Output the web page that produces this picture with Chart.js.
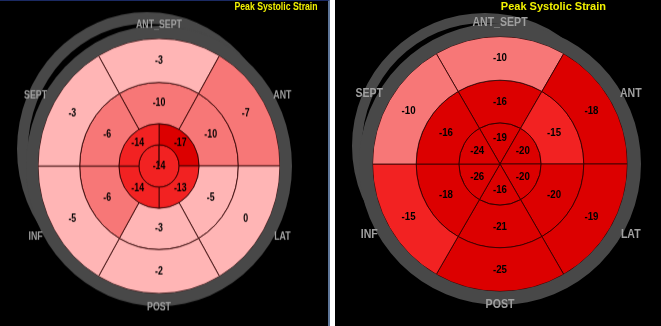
<!DOCTYPE html>
<html>
<head>
<meta charset="utf-8">
<title>Peak Systolic Strain</title>
<script src="https://cdn.jsdelivr.net/npm/chart.js@4.4.1/dist/chart.umd.min.js"></script>
<style>
  html, body { margin: 0; padding: 0; }
  body { width: 661px; height: 326px; background: #fff; position: relative; overflow: hidden; }
  .panel { position: absolute; top: 0; background: #000; overflow: hidden; }
  #left { left: 0; width: 328px; height: 325px; border-top: 1px solid #1b2a63; border-right: 2px solid #5d7598; }
  #right { left: 335px; width: 326px; height: 326px; }
  .title { position: absolute; color: #f2f200; font-family: "Liberation Sans", Arial, sans-serif; font-weight: bold; white-space: nowrap; line-height: 1; transform-origin: right center; }
  .holder { position: absolute; }
  .holder canvas { position: absolute; }
</style>
</head>
<body>
<div id="left" class="panel">
  <div class="holder" style="left:9px; top:15px; width:300px; height:300px; transform:scaleY(1.054)">
    <canvas id="leftShadow" width="300" height="300" style="left:-12px; top:-16px"></canvas>
    <canvas id="leftChart" width="300" height="300" style="left:0; top:0"></canvas>
  </div>
  <div class="title" style="right:10px; top:1px; font-size:10px; transform:scaleX(0.87)">Peak Systolic Strain</div>
</div>
<div id="right" class="panel">
  <div class="holder" style="left:5px; top:4px; width:320px; height:320px">
    <canvas id="rightShadow" width="320" height="320" style="left:-15px; top:-18px"></canvas>
    <canvas id="rightChart" width="320" height="320" style="left:0; top:0"></canvas>
  </div>
  <div class="title" style="right:55px; top:1px; font-size:11px">Peak Systolic Strain</div>
</div>
<script>
const segmentNames = ['ANT_SEPT', 'ANT', 'LAT', 'POST', 'INF', 'SEPT'];

// left bull's eye, 17 segments, clockwise from 12 o'clock
const leftBasal = [-3, -7, 0, -2, -5, -3];
const leftMid = [-10, -10, -5, -3, -6, -6];
const leftApical = [-17, -13, -14, -14];
const leftApex = [-14];

// right bull's eye, 18 segments
const rightBasal = [-10, -18, -19, -25, -15, -10];
const rightMid = [-16, -15, -20, -21, -18, -16];
const rightApical = [-19, -20, -20, -16, -26, -24];

const RING_GRAY = '#484848';
const LINE = 'rgba(45, 0, 0, 0.8)';
const FONT = '"Liberation Sans", Arial, sans-serif';

function strainColor(v) {
    if (v >= -5) return '#ffb5b5';
    if (v >= -10) return '#f77777';
    if (v >= -15) return '#f22222';
    return '#dc0000';
}

function ring(values, weight, rotation, names) {
    return {
        data: values.map(() => 1),
        strain: values,
        names: names,
        backgroundColor: values.map(strainColor),
        borderColor: LINE,
        borderWidth: 1,
        weight: weight,
        rotation: rotation
    };
}

function grayRing(weight) {
    return { data: [1], backgroundColor: RING_GRAY, borderWidth: 0, weight: weight };
}

function drawText(ctx, text, x, y, font, color, squeeze) {
    ctx.save();
    ctx.translate(x, y);
    ctx.scale(squeeze, 1);
    ctx.font = font;
    ctx.fillStyle = color;
    ctx.fillText(text, 0, 0);
    ctx.restore();
}

// writes the strain value in each segment and the wall names round the rim
const segmentText = {
    id: 'segmentText',
    afterDatasetsDraw(chart, args, opts) {
        const ctx = chart.ctx;
        const outer = chart.getDatasetMeta(0).data[0].outerRadius;
        ctx.save();
        ctx.textAlign = 'center';
        ctx.textBaseline = 'middle';
        chart.data.datasets.forEach((ds, i) => {
            if (!ds.strain) return;
            chart.getDatasetMeta(i).data.forEach((arc, j) => {
                const a = (arc.startAngle + arc.endAngle) / 2;
                const full = arc.endAngle - arc.startAngle > 6.28;
                const r = full ? 0 : (arc.innerRadius === 0 ? arc.outerRadius * 0.64 : (arc.innerRadius + arc.outerRadius) / 2);
                drawText(ctx, String(ds.strain[j]), arc.x + r * Math.cos(a), arc.y + r * Math.sin(a), opts.valueFont, '#000', 0.88);
                if (ds.names) {
                    const nx = arc.x + (outer + opts.gapX) * Math.cos(a);
                    const ny = arc.y + (outer + opts.gapY) * Math.sin(a);
                    drawText(ctx, ds.names[j], nx, ny, opts.nameFont, '#a0a0a0', 0.88);
                }
            });
        });
        ctx.restore();
    }
};

function baseOptions(padding) {
    return {
        responsive: false,
        animation: false,
        events: [],
        cutout: 0,
        layout: { padding: padding },
        plugins: { legend: { display: false }, tooltip: { enabled: false } }
    };
}

// left
const leftOpts = baseOptions(17);
leftOpts.plugins.segmentText = { valueFont: 'bold 10px ' + FONT, nameFont: 'bold 10px ' + FONT, gapX: 9.5, gapY: 1 };
new Chart(document.getElementById('leftChart'), {
    type: 'doughnut',
    data: {
        datasets: [
            grayRing(12),
            ring(leftBasal, 41.5, -30, segmentNames),
            ring(leftMid, 39, -30),
            ring(leftApical, 20, 0),
            ring(leftApex, 20, 0)
        ]
    },
    options: leftOpts,
    plugins: [segmentText]
});

// offset back ring behind the rim
const leftShadowOpts = baseOptions(20);
leftShadowOpts.cutout = 119;
new Chart(document.getElementById('leftShadow'), {
    type: 'doughnut',
    data: { datasets: [{ data: [1], backgroundColor: RING_GRAY, borderWidth: 0 }] },
    options: leftShadowOpts
});

// right
const rightOpts = baseOptions(19);
rightOpts.plugins.segmentText = { valueFont: 'bold 11px ' + FONT, nameFont: 'bold 12px ' + FONT, gapX: 10, gapY: 0 };
new Chart(document.getElementById('rightChart'), {
    type: 'doughnut',
    data: {
        datasets: [
            grayRing(13.5),
            ring(rightBasal, 43.5, -30, segmentNames),
            ring(rightMid, 42.5, -30),
            ring(rightApical, 41, -30)
        ]
    },
    options: rightOpts,
    plugins: [segmentText]
});

const rightShadowOpts = baseOptions(27);
rightShadowOpts.cutout = 123;
new Chart(document.getElementById('rightShadow'), {
    type: 'doughnut',
    data: { datasets: [{ data: [1], backgroundColor: RING_GRAY, borderWidth: 0 }] },
    options: rightShadowOpts
});
</script>
</body>
</html>
